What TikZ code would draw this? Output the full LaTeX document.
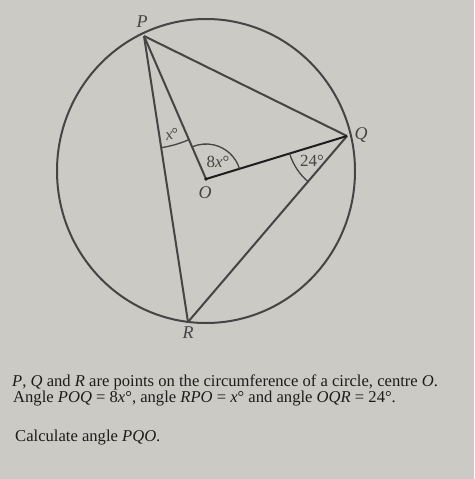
\documentclass[tikz,border=0pt]{standalone}
\usepackage{fontspec}
\setmainfont{Liberation Serif}
\usetikzlibrary{angles}
\definecolor{paper}{RGB}{204,202,197}
\definecolor{ink}{RGB}{70,68,68}
\definecolor{inkdark}{RGB}{30,28,28}
\begin{document}
\begin{tikzpicture}[x=1pt,y=-1pt,
  seg/.style={draw=ink,line width=2pt},
  arcmark/.style={draw=ink,line width=1.3pt},
  ptlabel/.style={font=\fontsize{18}{18}\selectfont\itshape,text=ink},
  anglabel/.style={font=\fontsize{17}{17}\selectfont,text=ink,inner sep=0pt},
  body/.style={font=\fontsize{16.6}{18}\selectfont,text=inkdark,anchor=base west,inner sep=0pt}]
\fill[paper] (0,0) rectangle (474,479);
\useasboundingbox (0,0) rectangle (474,479);
% circle
\draw[ink,line width=2pt] (206,171) ellipse [x radius=149, y radius=152];
% points
\coordinate (P) at (144,36);
\coordinate (Q) at (347,136);
\coordinate (O) at (206,179);
\coordinate (R) at (188,322);
% segments
\draw[seg] (P) -- (Q);
\draw[seg] (P) -- (R);
\draw[seg] (P) -- (O);
\draw[seg] (Q) -- (R);
\draw[draw=inkdark,line width=2pt] (O) -- (Q);
\fill[inkdark] (O) circle (1.8);
% angle arcs
\pic[arcmark, angle radius=113pt] {angle = R--P--O};
\pic[arcmark, angle radius=35pt] {angle = Q--O--P};
\pic[arcmark, angle radius=60pt] {angle = O--Q--R};
% angle labels
\node[anglabel,font=\fontsize{16}{16}\selectfont,rotate=12] (lx) at (172,134) {\textit{x}°};
\node[anglabel] (l8) at (218,162) {8\textit{x}°};
\node[anglabel] (l24) at (312,161) {24°};
% point labels
\node[ptlabel] (lP) at (142,22) {P};
\node[ptlabel] (lQ) at (361,135) {Q};
\node[ptlabel] (lO) at (205,193) {O};
\node[ptlabel] (lR) at (188,333) {R};
% text
\node[body] (t1) at (12,386) {\textit{P}, \textit{Q} and \textit{R} are points on the circumference of a circle, centre \textit{O}.};
\node[body] (t2) at (13,402) {Angle \textit{POQ} = 8\textit{x}°, angle \textit{RPO} = \textit{x}° and angle \textit{OQR} = 24°.};
\node[body] (t3) at (15,441) {Calculate angle \textit{PQO}.};
\end{tikzpicture}
\end{document}
